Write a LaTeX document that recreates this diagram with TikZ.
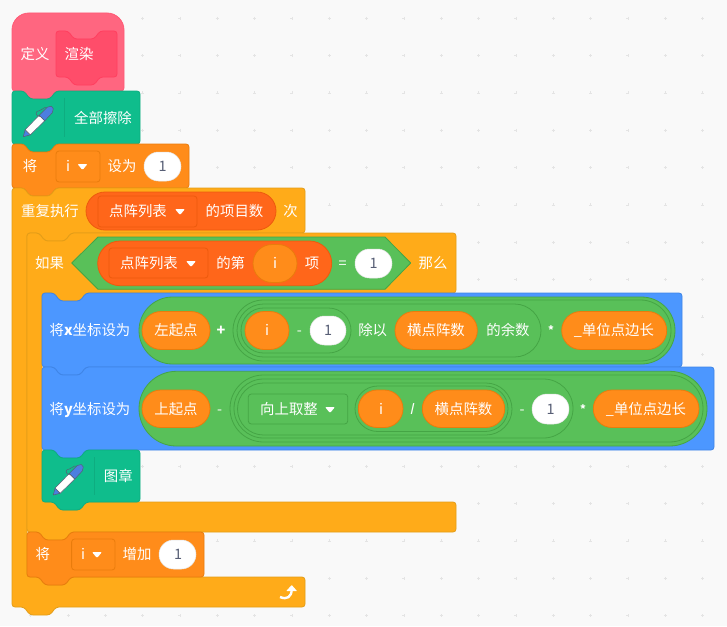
\documentclass[tikz,border=0pt]{standalone}
\usepackage{fontspec}
\setmainfont{Noto Sans CJK SC}
\definecolor{paper}{HTML}{F9F9F9}
\definecolor{gridgray}{HTML}{E4E4E4}
\definecolor{hatpink}{HTML}{FF6680}
\definecolor{hatedge}{HTML}{FF5A75}
\definecolor{defpink}{HTML}{FF4D6A}
\definecolor{defedge}{HTML}{FF3F5F}
\definecolor{pengreen}{HTML}{0FBD8C}
\definecolor{penedge}{HTML}{0EAD80}
\definecolor{varorange}{HTML}{FF8C1A}
\definecolor{varedge}{HTML}{E97C0C}
\definecolor{ctrlyellow}{HTML}{FFAB19}
\definecolor{ctrledge}{HTML}{E39D18}
\definecolor{moveblue}{HTML}{4C97FF}
\definecolor{moveedge}{HTML}{3F85E6}
\definecolor{opgreen}{HTML}{59C059}
\definecolor{opedge}{HTML}{45A545}
\definecolor{listred}{HTML}{FF661A}
\definecolor{listedge}{HTML}{ED5A0D}
\definecolor{numgray}{HTML}{575E75}
\definecolor{penblue}{HTML}{4C7FE0}
\tikzset{
  lbl/.style={text=white,inner sep=0pt,text height=13.5pt,text depth=2pt},
  numlbl/.style={lbl,text=numgray},
  hatblock/.style={fill=hatpink,draw=hatedge,line width=0.8pt},
  defblock/.style={fill=defpink,draw=defedge,line width=0.8pt},
  penblock/.style={fill=pengreen,draw=penedge,line width=0.8pt},
  varblock/.style={fill=varorange,draw=varedge,line width=0.8pt},
  ctrlblock/.style={fill=ctrlyellow,draw=ctrledge,line width=0.8pt},
  moveblock/.style={fill=moveblue,draw=moveedge,line width=0.8pt},
  oppill/.style={fill=opgreen,draw=opedge,line width=0.8pt},
  listpill/.style={fill=listred,draw=listedge,line width=0.8pt},
  numpill/.style={fill=white,draw=white!90!black,line width=0.5pt},
  gridmark/.style={draw=gridgray,line width=0.6pt},
  pendark/.style={draw=numgray,line width=0.5pt,line join=round},
  smallop/.style={lbl,font=\fontsize{11}{13}\selectfont\bfseries}
}
% style, x1, y1, x2, y2
\newcommand{\stackblock}[5]{
  \draw[#1,rounded corners=3pt] (#2,#3) -- (#2+12,#3) -- (#2+18,#3+8) -- (#2+38,#3+8) -- (#2+44,#3)
    -- (#4,#3) -- (#4,#5) -- (#2+44,#5) -- (#2+38,#5+8) -- (#2+18,#5+8) -- (#2+12,#5) -- (#2,#5) -- cycle;
}
% style, x1, y1, x2, head bottom, bar top, bottom
\newcommand{\mouthblock}[7]{
  \draw[#1,rounded corners=3pt] (#2,#3) -- (#2+12,#3) -- (#2+18,#3+8) -- (#2+38,#3+8) -- (#2+44,#3)
    -- (#4,#3) -- (#4,#5) -- (#2+59,#5) -- (#2+53,#5+8) -- (#2+33,#5+8) -- (#2+27,#5) -- (#2+15,#5)
    -- (#2+15,#6) -- (#2+27,#6) -- (#2+33,#6+8) -- (#2+53,#6+8) -- (#2+59,#6)
    -- (#4,#6) -- (#4,#7) -- (#2+44,#7) -- (#2+38,#7+8) -- (#2+18,#7+8) -- (#2+12,#7) -- (#2,#7) -- cycle;
}
% style, x1, y1, x2, y2
\newcommand{\pill}[5]{
  \draw[#1,rounded corners={(#5-#3)/2}] (#2,#3) rectangle (#4,#5);
}
\newcommand{\ddbox}[5]{
  \draw[#1,rounded corners=3pt] (#2,#3) rectangle (#4,#5);
}
\newcommand{\ddarrow}[2]{
  \fill[white,rounded corners=1pt] (#1-5,#2-3) -- (#1+5,#2-3) -- (#1,#2+3) -- cycle;
}
% pen icon, tip at x,y
\newcommand{\penicon}[2]{
  \begin{scope}[shift={(#1,#2)}]
    \draw[pendark,fill=penblue] (0,0) -- (1.8,-7) -- (7,-1.8) -- cycle;
    \draw[pendark,fill=white] (1.8,-7) -- (16,-21.5) -- (21.5,-16) -- (7,-1.8) -- cycle;
    \draw[pendark,fill=penblue] (16,-21.5) -- (24,-29.5) -- (28,-30.5) -- (30,-28) -- (29,-24) -- (21.5,-16) -- cycle;
    \draw[pendark] (17,-20) .. controls (11,-21) and (12,-26) .. (16,-26) .. controls (19,-26) and (20,-30) .. (23,-29);
  \end{scope}
}
\begin{document}
\begin{tikzpicture}[x=1pt,y=-1pt,font=\fontsize{14.4}{17}\selectfont]

\useasboundingbox (0,0) rectangle (727,626);
\fill[paper] (0,0) rectangle (727,626);

% dots of the work area
\foreach \i in {0,...,18}
  \foreach \j in {0,...,16}
    \draw[gridmark] (30.67+37.33*\i-1.5,18.3+37.33*\j) -- (30.67+37.33*\i+1.5,18.3+37.33*\j)
      (30.67+37.33*\i,18.3+37.33*\j-1.5) -- (30.67+37.33*\i,18.3+37.33*\j+1.5);

% define hat
\draw[hatblock,rounded corners=17pt] (12,60) -- (12,13) -- (124,13) -- (124,60)
  [rounded corners=3pt] -- (124,91) -- (56,91) -- (50,99) -- (30,99) -- (24,91) -- (12,91) -- cycle;
\stackblock{defblock}{56}{31}{117}{77}
\node[lbl] (defineText) at (35,54) {定义};
\node[lbl] (renderText) at (79,54) {渲染};

% erase all
\stackblock{penblock}{12}{91}{140}{144}
\draw[penedge] (64.5,98) -- (64.5,137);
\penicon{23.3}{136.7}
\node[lbl] (eraseText) at (103,118) {全部擦除};

% set i
\stackblock{varblock}{12}{144}{189}{188}
\node[lbl] (setWord) at (30,166) {将};
\ddbox{varblock}{56}{151}{100}{182}
\node[lbl] (setVar) at (68,166) {i};
\ddarrow{82.5}{167}
\node[lbl] (setTo) at (122,166) {设为};
\pill{numpill}{144}{152}{181}{181}
\node[numlbl] (setNum) at (162.5,166) {1};

% repeat
\mouthblock{ctrlblock}{12}{188}{305}{233}{577}{607}
\node[lbl] (repeatText) at (50,211) {重复执行};
\pill{listpill}{86}{192}{276}{230}
\ddbox{listpill}{98}{196}{197}{227}
\node[lbl] (lenList) at (138,211) {点阵列表};
\ddarrow{180}{212}
\node[lbl] (lenText) at (234.5,211) {的项目数};
\node[lbl] (timesText) at (290.5,211) {次};

% if
\mouthblock{ctrlblock}{27}{233}{456}{293}{502}{532}
\node[lbl] (ifText) at (49.5,263) {如果};
\draw[oppill,line join=round] (71.7,263) -- (98,237) -- (385,237) -- (410.7,263) -- (385,289.3) -- (98,289.3) -- cycle;
\pill{listpill}{97.7}{241}{331.7}{285.7}
\ddbox{listpill}{109}{248}{208}{278}
\node[lbl] (itemList) at (149,263) {点阵列表};
\ddarrow{191}{264}
\node[lbl] (itemOf) at (230.7,263) {的第};
\pill{varblock}{253}{244.5}{297}{282.5}
\node[lbl] (itemVar) at (275,263) {i};
\node[lbl] (itemText) at (312,263) {项};
\node[lbl] (equalSign) at (342.7,263) {=};
\pill{numpill}{355}{249}{392}{278}
\node[numlbl] (equalNum) at (373.5,263) {1};
\node[lbl] (thenText) at (433,263) {那么};

% set x
\stackblock{moveblock}{42}{293}{682}{367}
\node[lbl] (setxText) at (90,330) {将\textbf{x}坐标设为};
\pill{oppill}{139}{297}{675}{364}
\pill{oppill}{233}{300}{671}{361}
\pill{oppill}{237}{304}{541}{357}
\pill{oppill}{241}{308}{351}{353}
\pill{varblock}{142}{311.5}{210}{349.5}
\node[lbl] (leftText) at (176,330) {左起点};
\node[lbl] (xPlus) at (221,330) {\textbf{+}};
\pill{varblock}{245}{311.5}{289}{349.5}
\node[lbl] (xVar) at (267,330) {i};
\node[lbl] (xMinus) at (299.3,330) {-};
\pill{numpill}{310}{316}{346}{345}
\node[numlbl] (xNum) at (328,330) {1};
\node[lbl] (xDiv) at (372.7,330) {除以};
\pill{varblock}{395}{311.5}{477.3}{349.5}
\node[lbl] (xCols) at (436,330) {横点阵数};
\node[lbl] (xMod) at (508,330) {的余数};
\node[smallop] (xTimes) at (551,329) {*};
\pill{varblock}{561.7}{311.5}{666.7}{349.5}
\node[lbl] (xUnit) at (614,330) {\_单位点边长};

% set y
\stackblock{moveblock}{42}{367}{714}{450}
\node[lbl] (setyText) at (90,409) {将\textbf{y}坐标设为};
\pill{oppill}{139}{371.3}{707}{446}
\pill{oppill}{230}{375}{703}{442}
\pill{oppill}{234}{379}{573}{438}
\pill{oppill}{237.5}{383}{512}{435}
\pill{oppill}{355}{386}{508}{431.5}
\pill{varblock}{142}{390}{210}{427.5}
\node[lbl] (topText) at (176,409) {上起点};
\node[lbl] (yMinus) at (219.7,409) {-};
\ddbox{oppill}{248.3}{394}{347.7}{424}
\node[lbl] (ceilText) at (289,409) {向上取整};
\ddarrow{330}{410}
\pill{varblock}{358.3}{390}{403}{427.5}
\node[lbl] (yVar) at (381,409) {i};
\node[smallop] (yDiv) at (412.7,406.5) {/};
\pill{varblock}{422.3}{390}{504.7}{427.5}
\node[lbl] (yCols) at (463.5,409) {横点阵数};
\node[lbl] (yMinusTwo) at (522,409) {-};
\pill{numpill}{532}{394}{569}{424}
\node[numlbl] (yNum) at (550.5,409) {1};
\node[smallop] (yTimes) at (583,408) {*};
\pill{varblock}{593.3}{390}{699}{427.5}
\node[lbl] (yUnit) at (646,409) {\_单位点边长};

% stamp
\stackblock{penblock}{42}{450}{140}{502}
\draw[penedge] (94.5,457) -- (94.5,495);
\penicon{53.3}{495}
\node[lbl] (stampText) at (118.3,476) {图章};

% change i
\stackblock{varblock}{27}{532}{204}{577}
\node[lbl] (changeWord) at (42.7,554) {将};
\ddbox{varblock}{71.6}{539}{115}{570}
\node[lbl] (changeVar) at (83,554) {i};
\ddarrow{97}{555}
\node[lbl] (changeBy) at (137,554) {增加};
\pill{numpill}{159}{540}{196}{569}
\node[numlbl] (changeNum) at (178,554) {1};

% loop arrow
\draw[white,line width=2.4pt] (280,597) .. controls (287,600) and (291.7,597) .. (291.7,589);
\fill[white,rounded corners=0.5pt] (286.3,591) -- (291.7,585) -- (297,591) -- cycle;

\end{tikzpicture}
\end{document}
